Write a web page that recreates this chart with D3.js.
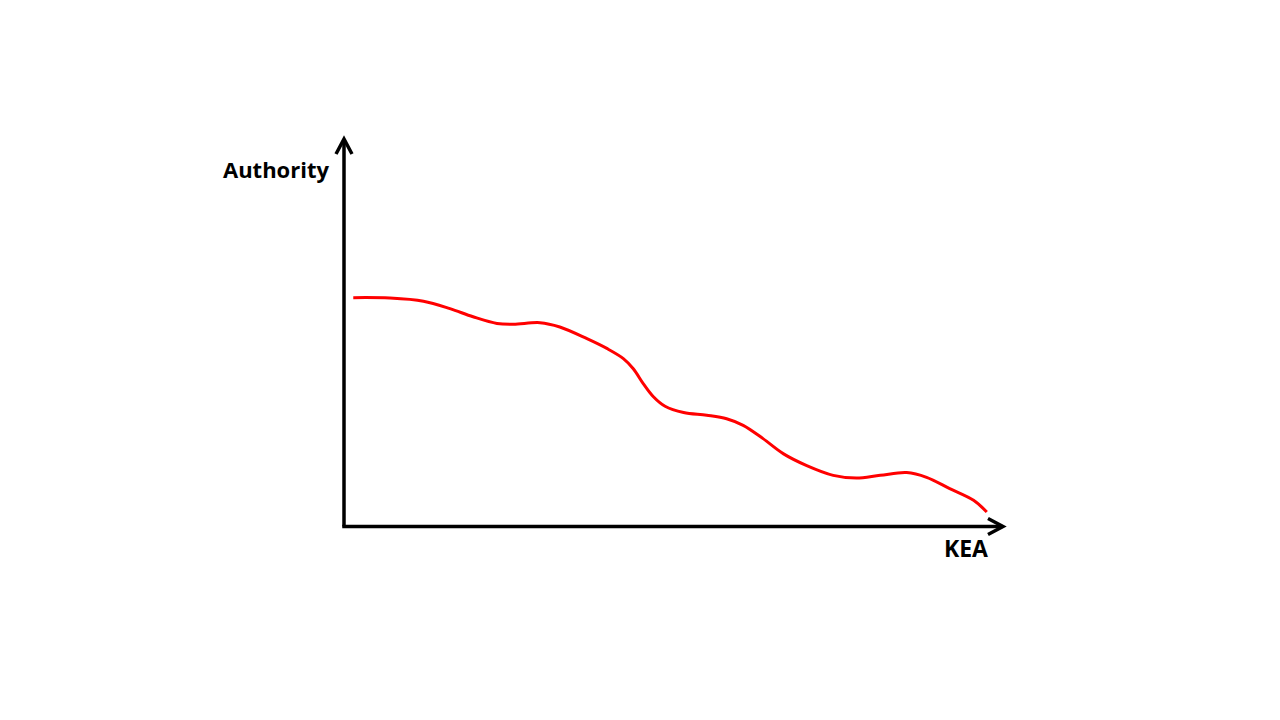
<!DOCTYPE html>
<html>
<head>
<meta charset="utf-8">
<script src="https://cdn.jsdelivr.net/npm/d3@7"></script>
<style>
  body { margin: 0; background: #fff; }
  svg text { font-family: "Open Sans", sans-serif; font-weight: bold; }
</style>
</head>
<body>
<svg id="chart" width="1280" height="720"></svg>
<script>
// curve points (x: KEA, y: Authority, both 0-100)
const keaValues = [1.4, 6.9, 12.0, 16.0, 19.5, 23.1, 25.6, 29.6, 32.6, 36.7, 39.7, 42.2, 43.7, 45.2, 46.7, 48.5, 51.3, 54.8, 57.8, 60.3, 63.3, 66.4, 69.9, 73.9, 77.4, 81.0, 85.0, 88.0, 91.5, 95.1, 97.1];
const authorityValues = [58.6, 58.5, 57.7, 55.8, 53.7, 52.0, 51.8, 52.2, 51.1, 48.1, 45.6, 43.0, 40.4, 36.6, 33.3, 30.8, 29.2, 28.5, 27.6, 25.9, 22.5, 18.6, 15.6, 13.1, 12.4, 13.1, 13.8, 12.6, 9.7, 6.7, 3.7];
const xLabel = "KEA";
const yLabel = "Authority";

const svg = d3.select("#chart");

const x = d3.scaleLinear().domain([0, 100]).range([344, 1006]);
const y = d3.scaleLinear().domain([0, 100]).range([526.5, 136]);

const points = keaValues.map((k, i) => [k, authorityValues[i]]);

// axes as plain arrows; tips pulled in so the mitred corner lands on the axis end
const tipInset = 3;
const axes = svg.append("g")
  .attr("fill", "none")
  .attr("stroke", "#000")
  .attr("stroke-width", 3.5);

const yTop = y(100) + tipInset;
axes.append("path")
  .attr("d", `M${x(0)},${y(0)}L${x(0)},${yTop + 1}`);
axes.append("path")
  .attr("d", `M${x(0) - 8},${yTop + 15}L${x(0)},${yTop}L${x(0) + 8},${yTop + 15}`);

const xEnd = x(100) - tipInset;
axes.append("path")
  .attr("d", `M${x(0) - 1.75},${y(0)}L${xEnd - 1},${y(0)}`);
axes.append("path")
  .attr("d", `M${xEnd - 15},${y(0) - 8}L${xEnd},${y(0)}L${xEnd - 15},${y(0) + 8}`);

// red curve
const line = d3.line()
  .x(d => x(d[0]))
  .y(d => y(d[1]))
  .curve(d3.curveCatmullRom.alpha(0.5));

svg.append("path")
  .datum(points)
  .attr("fill", "none")
  .attr("stroke", "#ff0000")
  .attr("stroke-width", 3)
  .attr("d", line);

// labels
svg.append("text")
  .attr("x", 329)
  .attr("y", 178)
  .attr("text-anchor", "end")
  .attr("font-size", 22)
  .text(yLabel);

svg.append("text")
  .attr("x", 988)
  .attr("y", 557)
  .attr("text-anchor", "end")
  .attr("font-size", 23)
  .text(xLabel);
</script>
</body>
</html>
